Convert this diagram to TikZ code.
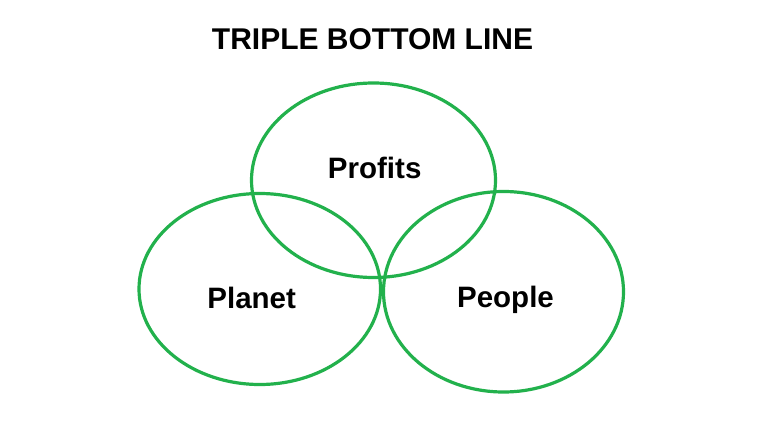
\documentclass[tikz,border=0pt]{standalone}
\usepackage{fontspec}
\setmainfont{Liberation Sans}
\usetikzlibrary{shapes.geometric}
\definecolor{ringgreen}{RGB}{34,177,76}
\tikzset{
  ring/.style={ellipse, draw=ringgreen, line width=3.2pt, inner sep=0pt, outer sep=0pt},
  lbl/.style={font=\fontsize{29.5}{32}\selectfont\bfseries, inner sep=0pt, anchor=base}
}
\begin{document}
\begin{tikzpicture}[x=1pt,y=-1pt]
\useasboundingbox[fill=white] (0,0) rectangle (768,422);
\node[lbl, font=\fontsize{30}{32}\selectfont\bfseries] (title) at (372.5,50) {TRIPLE BOTTOM LINE};
\node[ring, minimum width=244pt, minimum height=194.5pt] (profitsring) at (373.5,180.25) {};
\node[ring, minimum width=241.5pt, minimum height=191pt] (planetring) at (259.75,289) {};
\node[ring, minimum width=240pt, minimum height=200.5pt] (peoplering) at (503.5,291.75) {};
\node[lbl] (profits) at (374.7,178.3) {Profits};
\node[lbl] (planet) at (251.7,308.3) {Planet};
\node[lbl] (people) at (505.5,307.3) {People};
\end{tikzpicture}
\end{document}
